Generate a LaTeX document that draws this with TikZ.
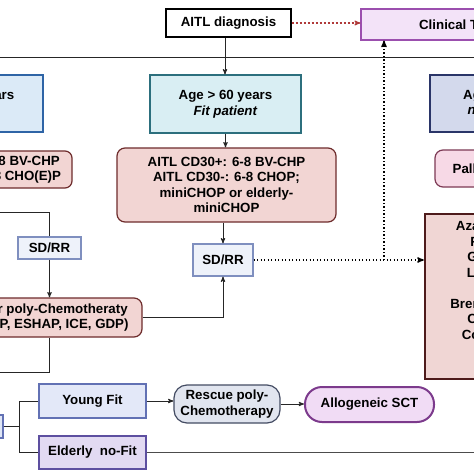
\documentclass[tikz,border=0pt]{standalone}
\usepackage{fontspec}
\setmainfont{Liberation Sans}
\usepackage{tikz}
\usetikzlibrary{positioning}
\usetikzlibrary{shapes,arrows,calc}
\tikzset{
    %Define standard arrow tip
    >=stealth',
    % Define text style
    txt/.style={
           font=\fontsize{13.3}{15.5}\selectfont\bfseries,
           align=center,
           inner sep=0pt,},
    % Define box style
    box/.style={
           txt,
           draw,
           line width=1.2pt,},
    % Define arrow styles
    conn/.style={
           line width=0.9pt,
           black!85,},
    pil/.style={
           conn,
           ->,},
    dotpil/.style={
           ->,
           line width=1.3pt,
           dash pattern=on 1.3pt off 2.2pt,},
}
\definecolor{redline}{HTML}{B03A3A}

\begin{document}
\begin{tikzpicture}[x=1pt, y=-1pt]

%%%%%%%%%%%%%%%%%%%%%%%%%%%%%%%%%

\useasboundingbox (0,0) rectangle (474,474);
\fill[white] (0,0) rectangle (474,474);
\clip (0,0) rectangle (474,474);

% top row
\node [box, fill=white, minimum width=125, minimum height=28] (diag) at (228.5, 23) {AITL diagnosis};
\node [box, draw={rgb,255:red,155;green,79;blue,174}, fill={rgb,255:red,243;green,227;blue,248},
       minimum width=202, minimum height=31] (trial) at (462, 24.5) {Clinical Trials};

% age groups
\node [box, draw={rgb,255:red,46;green,100;blue,166}, fill={rgb,255:red,219;green,234;blue,247},
       minimum width=151, minimum height=57] (young60) at (-32.5, 103.5) {Age < 60 years\\\textit{Fit patient}};
\node [box, draw={rgb,255:red,44;green,111;blue,125}, fill={rgb,255:red,217;green,238;blue,243},
       minimum width=151, minimum height=58] (fit60) at (225.5, 104) {Age > 60 years\\\textit{Fit patient}};
\node [box, draw={rgb,255:red,42;green,53;blue,104}, fill={rgb,255:red,211;green,217;blue,236},
       minimum width=160, minimum height=57] (unfit) at (510, 103.5) {Age > 60 years\\\textit{no-Fit patient}};

% first line therapy
\node [box, rounded corners=7pt, draw={rgb,255:red,110;green,44;blue,44}, fill={rgb,255:red,242;green,213;blue,211},
       minimum width=182, minimum height=37] (leftchemo) at (-19, 169.5) {AITL CD30+: 6-8 BV-CHP\\AITL CD30-: 6-8 CHO(E)P};
\node [box, rounded corners=8pt, draw={rgb,255:red,110;green,44;blue,44}, fill={rgb,255:red,242;green,213;blue,211},
       minimum width=219, minimum height=74] (midchemo) at (226.5, 185) {AITL CD30+: 6-8 BV-CHP\\AITL CD30-: 6-8 CHOP;\\miniCHOP or elderly-\\miniCHOP};
\node [box, rounded corners=8pt, draw={rgb,255:red,125;green,58;blue,85}, fill={rgb,255:red,247;green,217;blue,230},
       minimum width=124, minimum height=37] (pal) at (497, 168.5) {Palliative care};

% response
\node [box, draw={rgb,255:red,127;green,143;blue,191}, fill={rgb,255:red,238;green,242;blue,250},
       minimum width=63, minimum height=22] (sdL) at (49.5, 248) {SD/RR};
\node [box, draw={rgb,255:red,127;green,143;blue,191}, fill={rgb,255:red,238;green,242;blue,250},
       minimum width=60, minimum height=32] (sdM) at (223, 260) {SD/RR};

% second line therapy
\node [box, rounded corners=8pt, draw={rgb,255:red,110;green,44;blue,44}, fill={rgb,255:red,242;green,213;blue,211},
       minimum width=189, minimum height=39] (salv) at (47.5, 317.5) {Other poly-Chemotheraty\\(DHAP, ESHAP, ICE, GDP)};
\node [box, line width=2.4pt, draw={rgb,255:red,78;green,27;blue,27}, fill={rgb,255:red,240;green,214;blue,212},
       minimum width=140, minimum height=165] (aza) at (495, 296.5) {};
\node [txt, anchor=north] (azaList) at ([xshift=-4pt, yshift=-8.3pt]aza.north)
      {Azacitidine\\R-CVP\\GemOx\\LenDex\\[15.5pt]Brentuximab\\CHOEP\\Corticoid};

% bottom row
\node [box, draw={rgb,255:red,98;green,113;blue,180}, fill={rgb,255:red,223;green,230;blue,245},
       minimum width=46, minimum height=23] (leftS) at (-20, 426.5) {};
\node [box, draw={rgb,255:red,98;green,113;blue,180}, fill={rgb,255:red,227;green,232;blue,248},
       minimum width=107, minimum height=34] (young) at (92.5, 401) {Young Fit};
\node [box, draw={rgb,255:red,93;green,79;blue,160}, fill={rgb,255:red,226;green,218;blue,242},
       minimum width=107, minimum height=33] (elderly) at (92.5, 452.5) {Elderly\ \ no-Fit};
\node [box, rounded corners=13pt, draw={rgb,255:red,68;green,76;blue,99}, fill={rgb,255:red,225;green,229;blue,239},
       minimum width=106, minimum height=38] (rescue) at (227, 404) {Rescue poly-\\Chemotherapy};
\node [box, line width=2pt, rounded corners=17pt, draw={rgb,255:red,124;green,58;blue,140}, fill={rgb,255:red,241;green,220;blue,245},
       minimum width=129, minimum height=35] (allo) at (369.5, 404.5) {Allogeneic SCT};

% connectors from diagnosis
\coordinate (split) at (225, 57);
\draw [conn] (diag.south -| split) -- (split);
\draw [pil] (split) -- (split |- fit60.north);
\draw [pil] (split) -| (young60.north);
\draw [pil] (split) -| (unfit.north);
\draw [dotpil, redline, line width=1.1pt, dash pattern=on 2pt off 2pt] (diag.east) -- (diag.east -| trial.west);

% fit branch
\draw [pil] (fit60.south) -- (fit60.south |- midchemo.north);
\draw [pil] (midchemo.south -| sdM.north) -- (sdM.north);
\draw [conn] (leftchemo.south) -- ++(0,24) -| (sdL.north);
\draw [pil] (sdL.south) -- (sdL.south |- salv.north);
\draw [pil] (salv.east) -| (sdM.south);
\draw [pil] (salv.south -| sdL.south) -- ++(0,35) -| (leftS.north);

% refractory to clinical trials
\draw [dotpil] (sdM.east) -- (sdM.east -| aza.west);
\coordinate (jn) at (384, 260);
\draw [dotpil] (jn) -- (jn |- trial.south);

% bottom branch
\draw [conn] (leftS.east) -- ++(16,0) coordinate (fork) |- (young.west);
\draw [conn] (fork) |- (elderly.west);
\draw [pil] (young.east) -- (young.east -| rescue.west);
\draw [pil] (rescue.east) -- (rescue.east -| allo.west);
\draw [conn, line width=1.6pt, black!70] (elderly.east) -- ++(340,0) coordinate (elderlyEnd);

\end{tikzpicture}
\end{document}
